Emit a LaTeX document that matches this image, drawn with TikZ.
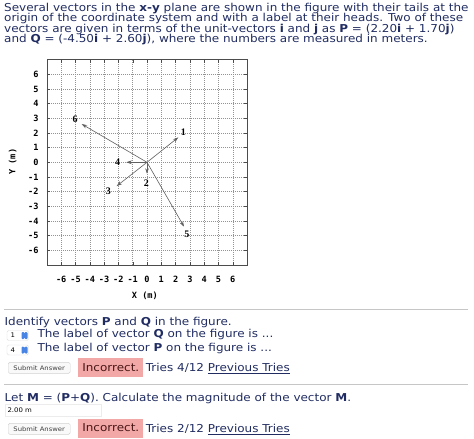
\documentclass[tikz,border=0pt]{standalone}
\usepackage{fontspec}
\usetikzlibrary{arrows.meta}
\setmainfont{DejaVu Sans}[FakeStretch=1.1]
\newfontfamily\monofont{DejaVu Sans Mono}
\newfontfamily\labfont{Liberation Serif}
\definecolor{navy}{RGB}{33,45,98}
\definecolor{wrongbg}{RGB}{242,168,166}
\definecolor{wrongtx}{RGB}{72,22,22}
\definecolor{spinblue}{RGB}{72,132,228}
\tikzset{
  body/.style={anchor=base west, inner sep=0pt, text=navy, font=\fontsize{10.9}{11}\selectfont},
  ticklab/.style={inner sep=0pt, font=\monofont\bfseries\fontsize{8.6}{9}\selectfont},
  griddot/.style={gray!85, line width=0.45pt, dash pattern=on 0.7pt off 1.3pt},
  vec/.style={gray!75!black, line width=0.6pt, -{Stealth[length=5.5pt, width=3.6pt]}},
  veclab/.style={inner sep=0pt, font=\labfont\bfseries\fontsize{10}{10}\selectfont},
  submit/.style={draw=gray!35, fill=gray!5, rounded corners=1.5pt, minimum width=62pt, minimum height=11pt, inner sep=0pt, font=\fontsize{6.2}{7}\selectfont, text=black!75},
  wrong/.style={fill=wrongbg, minimum width=65pt, minimum height=19pt, inner sep=0pt, text=wrongtx, font=\fontsize{10.9}{12}\selectfont},
  spinner/.style={fill=spinblue, rounded corners=1pt, minimum width=6pt, minimum height=7pt, inner sep=0pt},
  small/.style={inner sep=0pt, font=\fontsize{6.3}{7}\selectfont},
  rule/.style={gray!45, line width=0.8pt}
}
\begin{document}
\begin{tikzpicture}[x=1pt, y=-1pt]
  \useasboundingbox[fill=white] (0,0) rectangle (474,439);
  % question text
  \node[body] (q1) at (4,11) {Several vectors in the \textbf{x-y} plane are shown in the figure with their tails at the};
  \node[body] (q2) at (4,21.5) {origin of the coordinate system and with a label at their heads. Two of these};
  \node[body] (q3) at (4,32) {vectors are given in terms of the unit-vectors \textbf{i} and \textbf{j} as \textbf{P} = (2.20\textbf{i} + 1.70\textbf{j})};
  \node[body] (q4) at (4,42.7) {and \textbf{Q} = (-4.50\textbf{i} + 2.60\textbf{j}), where the numbers are measured in meters.};

  % the plot
  \begin{scope}[shift={(147,162.3)}, x=14.3pt, y=14.67pt]
    \foreach \i in {-6,...,6} {
      \draw[griddot] (\i,-7) -- (\i,7); % vertical grid
      \draw[griddot] (-7,\i) -- (7,\i); % horizontal grid
      \draw[gray!60!black, line width=0.4pt] (\i,-7) -- (\i,-6.8) (\i,7) -- (\i,6.8) (-7,\i) -- (-6.8,\i) (7,\i) -- (6.8,\i); % ticks
      \node[ticklab] (xt\i) at (\i,-7.98) {\i};
      \node[ticklab, anchor=east] (yt\i) at (-7.57,\i) {\i};
    }
    \draw[gray!60!black, line width=0.8pt] (-7,-7) rectangle (7,7); % frame
    \node[ticklab] (xlab) at (-0.15,-9.07) {X (m)};
    \node[ticklab, rotate=90] (ylab) at (-9.4,0.04) {Y (m)};

    \coordinate (O) at (0,0);
    \coordinate (h1) at (2.19,1.70);
    \coordinate (h2) at (0,-0.78);
    \coordinate (h3) at (-2.12,-1.62);
    \coordinate (h4) at (-1.45,0);
    \coordinate (h5) at (2.59,-4.39);
    \coordinate (h6) at (-4.57,2.61);
    \foreach \k in {1,...,6} \draw[vec] (O) -- (h\k);
    \node[veclab] (l1) at (2.54,2.02) {1};
    \node[veclab] (l2) at (-0.05,-1.45) {2};
    \node[veclab] (l3) at (-2.70,-1.94) {3};
    \node[veclab] (l4) at (-2.06,0) {4};
    \node[veclab] (l5) at (2.78,-4.89) {5};
    \node[veclab] (l6) at (-5.03,2.93) {6};
  \end{scope}

  % first part
  \draw[rule] (4,309.3) -- (468,309.3);
  \node[body] (id) at (4.5,325.7) {Identify vectors \textbf{P} and \textbf{Q} in the figure.};
  \draw[gray!25, rounded corners=1.5pt] (7,330.5) rectangle (28.5,340.5); % dropdown Q
  \node[small] (d1) at (12.8,335.5) {1};
  \node[spinner] (s1) at (24.5,335.5) {};
  \fill[white] ([yshift=-2.6pt]s1.center) -- ++(-1.4,1.5) -- ++(2.8,0) -- cycle ([yshift=2.6pt]s1.center) -- ++(-1.4,-1.5) -- ++(2.8,0) -- cycle; % spinner arrows
  \node[body] (aq) at (37.3,337.3) {The label of vector \textbf{Q} on the figure is ...};
  \draw[gray!25, rounded corners=1.5pt] (7,345) rectangle (28.5,355); % dropdown P
  \node[small] (d2) at (12.8,350) {4};
  \node[spinner] (s2) at (24.5,350) {};
  \fill[white] ([yshift=-2.6pt]s2.center) -- ++(-1.4,1.5) -- ++(2.8,0) -- cycle ([yshift=2.6pt]s2.center) -- ++(-1.4,-1.5) -- ++(2.8,0) -- cycle; % spinner arrows
  \node[body] (ap) at (37.3,351.7) {The label of vector \textbf{P} on the figure is ...};
  \node[submit] (sb1) at (39.2,367.8) {Submit Answer};
  \node[wrong] (w1) at (110.8,367.6) {Incorrect.};
  \node[body] (tr1) at (145.7,371.7) {Tries 4/12 \underline{Previous Tries}};

  % second part
  \draw[rule] (4,384) -- (468,384);
  \node[body] (mq) at (4.5,401.7) {Let \textbf{M} = (\textbf{P}+\textbf{Q}). Calculate the magnitude of the vector \textbf{M}.};
  \draw[gray!15] (5,404) rectangle (101,415.7); % input box
  \node[small, anchor=base west] (ans) at (7.3,412) {2.00 m};
  \node[submit] (sb2) at (39.2,428.8) {Submit Answer};
  \node[wrong] (w2) at (110.8,428) {Incorrect.};
  \node[body] (tr2) at (145.7,432.3) {Tries 2/12 \underline{Previous Tries}};
\end{tikzpicture}
\end{document}
